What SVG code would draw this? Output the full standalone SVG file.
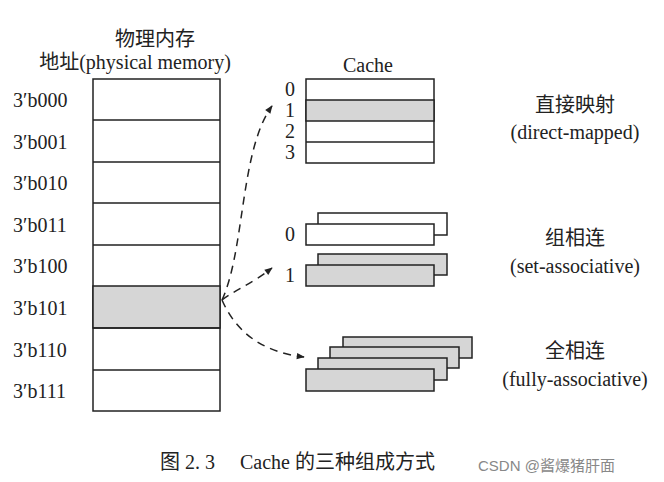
<svg xmlns="http://www.w3.org/2000/svg" width="664" height="482" viewBox="0 0 664 482">
<style>
text{font-family:"Liberation Serif","Noto Sans CJK SC",serif;font-size:20px;fill:#222}
.b{fill:#fff;stroke:#222;stroke-width:1.5}
.g{fill:#d6d6d6;stroke:#222;stroke-width:1.5}
.c{stroke:#222;stroke-width:1.5;fill:none;stroke-dasharray:8,6}
.m{text-anchor:middle}
</style>
<defs><marker id="a" viewBox="0 0 10 10" refX="9" refY="5" markerWidth="14" markerHeight="8" orient="auto" markerUnits="userSpaceOnUse"><path d="M0,1L10,5L0,9z" fill="#222"/></marker></defs>
<rect width="664" height="482" fill="#fff"/>
<g id="memory">
<text x="155" y="46" class="m">物理内存</text>
<text x="135" y="69" class="m">地址(physical memory)</text>
<rect x="93" y="79" width="127" height="332" class="b"/>
<rect x="93" y="286" width="127" height="42" class="g"/>
<path d="M93,120H220M93,162H220M93,203H220M93,245H220M93,328H220M93,370H220" stroke="#222" stroke-width="1.5"/>
<text x="13" y="107">3′b000</text><text x="13" y="149">3′b001</text><text x="13" y="190">3′b010</text><text x="13" y="232">3′b011</text>
<text x="13" y="273">3′b100</text><text x="13" y="315">3′b101</text><text x="13" y="357">3′b110</text><text x="13" y="398">3′b111</text>
</g>
<g id="direct">
<text x="368" y="72" class="m">Cache</text>
<rect x="306" y="79" width="128" height="84" class="b"/>
<rect x="306" y="100" width="128" height="21" class="g"/>
<path d="M306,142H434" stroke="#222" stroke-width="1.5"/>
<text x="285" y="96">0</text><text x="285" y="117">1</text><text x="285" y="138">2</text><text x="285" y="159">3</text>
<text x="575" y="112" class="m">直接映射</text><text x="575" y="139" class="m">(direct-mapped)</text>
</g>
<g id="set">
<rect x="318" y="213" width="129" height="22" class="b"/><rect x="306" y="224" width="128" height="21" class="b"/>
<rect x="318" y="254" width="129" height="21" class="g"/><rect x="306" y="265" width="128" height="21" class="g"/>
<text x="285" y="241">0</text><text x="285" y="282">1</text>
<text x="575" y="245" class="m">组相连</text><text x="575" y="273" class="m">(set-associative)</text>
</g>
<g id="fully">
<rect x="343" y="337" width="129" height="21" class="g"/><rect x="330" y="347" width="129" height="21" class="g"/>
<rect x="318" y="358" width="129" height="22" class="g"/><rect x="306" y="369" width="128" height="22" class="g"/>
<text x="575" y="358" class="m">全相连</text><text x="575" y="386" class="m">(fully-associative)</text>
</g>
<g id="connectors">
<path d="M222,300C245,250 240,150 272,106" class="c" marker-end="url(#a)"/>
<path d="M222,300C235,290 250,285 272,268" class="c" marker-end="url(#a)"/>
<path d="M222,300C235,330 260,352 304,357" class="c" marker-end="url(#a)"/>
</g>
<text x="160" y="469">图 2. 3　 Cache 的三种组成方式</text>
<text x="478" y="471" style="font-family:'Liberation Sans','Noto Sans CJK SC',sans-serif;font-size:15px;fill:#888">CSDN @酱爆猪肝面</text>
</svg>
